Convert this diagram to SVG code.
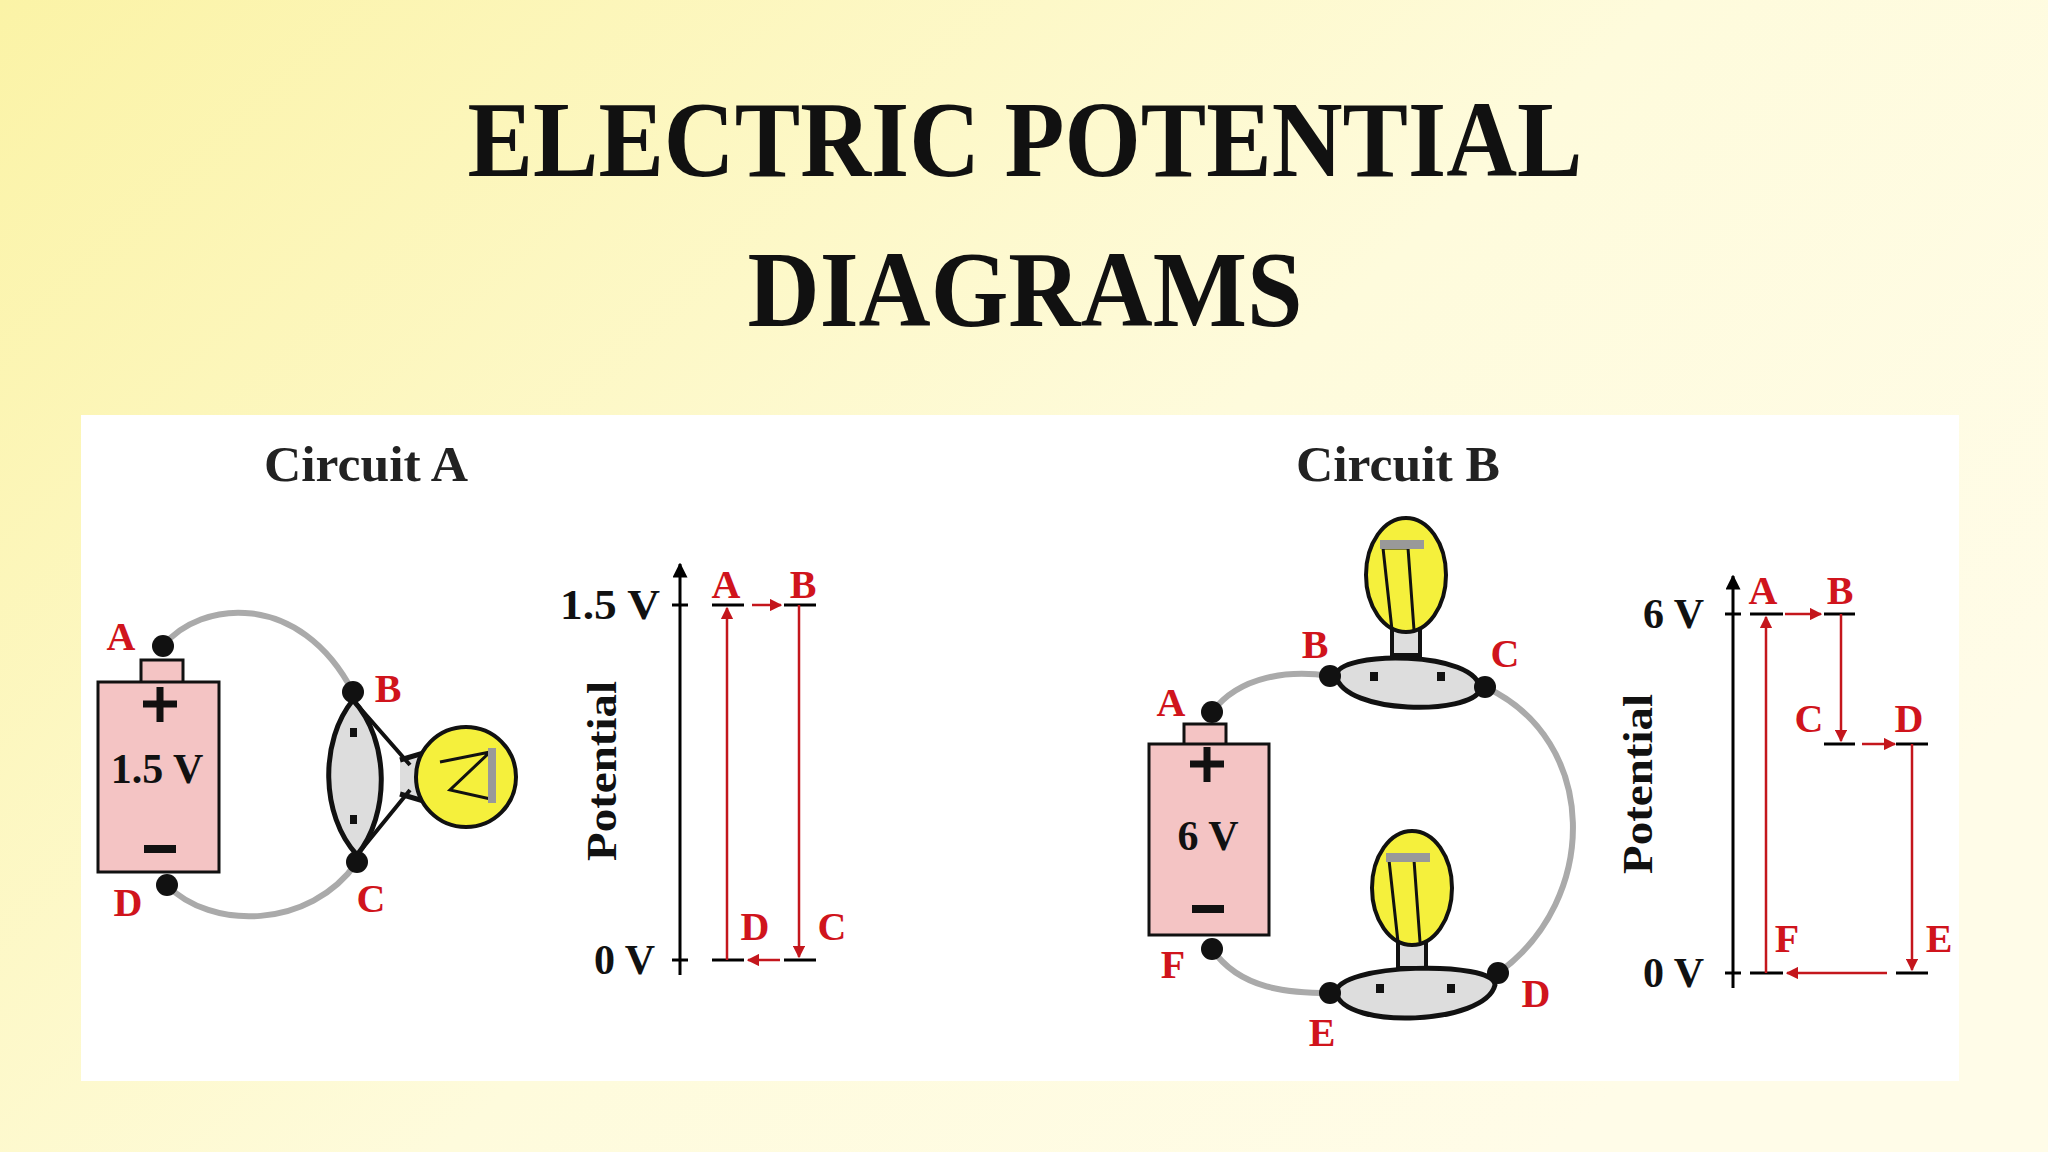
<svg xmlns="http://www.w3.org/2000/svg" width="2048" height="1152" viewBox="0 0 2048 1152">
<defs>
<linearGradient id="bg" x1="0" y1="0" x2="1" y2="0.6">
<stop offset="0" stop-color="#fbf3a6"/><stop offset="0.6" stop-color="#fefbdc"/><stop offset="1" stop-color="#fffce8"/>
</linearGradient>
<marker id="ar" viewBox="0 0 10 10" refX="9" refY="5" markerWidth="5" markerHeight="5" orient="auto"><path d="M0,0 L10,5 L0,10 z" fill="#c4161c"/></marker>
<marker id="ak" viewBox="0 0 10 10" refX="9" refY="5" markerWidth="5" markerHeight="5" orient="auto"><path d="M0,0 L10,5 L0,10 z" fill="#000"/></marker>
</defs>
<style>
.t{font-family:"Liberation Serif",serif;font-weight:bold;}
.ttl{font-size:108px;text-anchor:middle;fill:#111;}
.cap{font-size:50px;fill:#222;}
.red{font-size:40px;fill:#d0141c;text-anchor:middle;}
.blk{font-size:42px;fill:#111;}
.wire{fill:none;stroke:#aaa;stroke-width:6;}
.rl{stroke:#c4161c;stroke-width:2.5;fill:none;}
.bar{stroke:#000;stroke-width:3;}
.ax{stroke:#000;stroke-width:3;fill:none;}
.bat{fill:#f4c4c4;stroke:#111;stroke-width:3;}
.bulb{fill:#f5f03c;stroke:#111;stroke-width:4;}
.sock{fill:#ddd;stroke:#111;stroke-width:5;}
.plus{stroke:#111;stroke-width:7;fill:none;}
</style>
<rect width="2048" height="1152" fill="url(#bg)"/>
<g id="title">
<text class="t ttl" x="1025" y="176" textLength="1115" lengthAdjust="spacingAndGlyphs">ELECTRIC POTENTIAL</text>
<text class="t ttl" x="1025" y="326" textLength="555" lengthAdjust="spacingAndGlyphs">DIAGRAMS</text>
</g>
<rect x="81" y="415" width="1878" height="666" fill="#fff"/>
<g id="circuitA">
<text class="t cap" x="264" y="481" textLength="204" lengthAdjust="spacingAndGlyphs">Circuit A</text>
<g id="wiresA">
<path class="wire" d="M163,646 C200,600 300,590 353,692"/>
<path class="wire" d="M167,885 C210,930 310,930 357,862"/>
</g>
<g id="batteryA">
<rect class="bat" x="141" y="660" width="42" height="24"/>
<rect class="bat" x="98" y="682" width="121" height="190"/>
<path class="plus" d="M143,704 H177 M160,687 V722"/>
<text class="t blk" x="157" y="783" text-anchor="middle">1.5 V</text>
<rect x="144" y="845" width="32" height="8" fill="#111"/>
<circle cx="163" cy="646" r="11" fill="#111"/>
<circle cx="167" cy="885" r="11" fill="#111"/>
<text class="t red" x="121" y="650">A</text>
<text class="t red" x="128" y="916">D</text>
</g>
<g id="lampA">
<path d="M400,760 L440,748 L440,806 L400,794" fill="#ddd" stroke="#111" stroke-width="5"/>
<circle class="bulb" cx="466" cy="777" r="50"/>
<path d="M440,762 L490,752 L450,790 L495,800" fill="none" stroke="#111" stroke-width="3"/>
<rect x="488" y="748" width="8" height="55" fill="#999"/>
<path class="sock" d="M353,700 C320,740 320,815 357,855 C390,815 390,740 353,700 Z"/>
<path d="M353,700 L410,765 M357,855 L410,790" stroke="#111" stroke-width="4"/>
<rect x="350" y="728" width="7" height="9" fill="#111"/><rect x="350" y="815" width="7" height="9" fill="#111"/>
<circle cx="353" cy="692" r="11" fill="#111"/>
<circle cx="357" cy="862" r="11" fill="#111"/>
<text class="t red" x="388" y="702">B</text>
<text class="t red" x="371" y="912">C</text>
</g>
</g>
<g id="graphA">
<line class="ax" x1="680" y1="975" x2="680" y2="564" marker-end="url(#ak)"/>
<line class="bar" x1="672" y1="605" x2="688" y2="605"/><line class="bar" x1="672" y1="960" x2="688" y2="960"/>
<text class="t blk" x="660" y="619" text-anchor="end" textLength="100" lengthAdjust="spacingAndGlyphs">1.5 V</text>
<text class="t blk" x="655" y="974" text-anchor="end">0 V</text>
<text class="t blk" transform="translate(616,771) rotate(-90)" text-anchor="middle" textLength="180" lengthAdjust="spacingAndGlyphs">Potential</text>
<line class="bar" x1="712" y1="605" x2="744" y2="605"/><line class="bar" x1="784" y1="605" x2="816" y2="605"/>
<line class="bar" x1="712" y1="960" x2="744" y2="960"/><line class="bar" x1="784" y1="960" x2="816" y2="960"/>
<line class="rl" x1="727" y1="960" x2="727" y2="608" marker-end="url(#ar)"/>
<line class="rl" x1="799" y1="605" x2="799" y2="957" marker-end="url(#ar)"/>
<line class="rl" x1="752" y1="605" x2="781" y2="605" marker-end="url(#ar)"/>
<line class="rl" x1="780" y1="960" x2="748" y2="960" marker-end="url(#ar)"/>
<text class="t red" x="726" y="598">A</text><text class="t red" x="803" y="598">B</text>
<text class="t red" x="755" y="940">D</text><text class="t red" x="832" y="940">C</text>
</g>
<g id="circuitB">
<text class="t cap" x="1296" y="481" textLength="204" lengthAdjust="spacingAndGlyphs">Circuit B</text>
<g id="wiresB">
<path class="wire" d="M1212,712 C1240,675 1290,670 1330,676"/>
<path class="wire" d="M1485,687 C1600,740 1600,900 1498,973"/>
<path class="wire" d="M1212,949 C1240,990 1290,993 1330,993"/>
</g>
<g id="batteryB">
<rect class="bat" x="1184" y="724" width="42" height="22"/>
<rect class="bat" x="1149" y="744" width="120" height="191"/>
<path class="plus" d="M1190,764 H1224 M1207,747 V782"/>
<text class="t blk" x="1208" y="850" text-anchor="middle">6 V</text>
<rect x="1192" y="905" width="32" height="8" fill="#111"/>
<circle cx="1212" cy="712" r="11" fill="#111"/>
<circle cx="1212" cy="949" r="11" fill="#111"/>
<text class="t red" x="1171" y="716">A</text>
<text class="t red" x="1173" y="978">F</text>
</g>
<g id="lampB1">
<path d="M1392,628 L1392,655 L1420,655 L1420,628" fill="#ddd" stroke="#111" stroke-width="4"/>
<ellipse class="bulb" cx="1406" cy="575" rx="40" ry="57"/>
<path d="M1392,630 L1383,548 L1408,548 L1414,630" fill="none" stroke="#111" stroke-width="3"/>
<rect x="1380" y="540" width="44" height="9" fill="#999"/>
<path class="sock" d="M1336,676 C1336,650 1480,650 1480,690 C1470,715 1345,715 1336,676 Z"/>
<rect x="1370" y="672" width="8" height="9" fill="#111"/><rect x="1437" y="672" width="8" height="9" fill="#111"/>
<circle cx="1330" cy="676" r="11" fill="#111"/>
<circle cx="1485" cy="687" r="11" fill="#111"/>
<text class="t red" x="1315" y="658">B</text>
<text class="t red" x="1505" y="667">C</text>
</g>
<g id="lampB2">
<path d="M1398,940 L1398,968 L1426,968 L1426,940" fill="#ddd" stroke="#111" stroke-width="4"/>
<ellipse class="bulb" cx="1412" cy="888" rx="40" ry="57"/>
<path d="M1398,942 L1389,860 L1414,860 L1420,942" fill="none" stroke="#111" stroke-width="3"/>
<rect x="1386" y="853" width="44" height="9" fill="#999"/>
<path class="sock" d="M1336,993 C1336,963 1495,960 1495,985 C1485,1025 1345,1030 1336,993 Z"/>
<rect x="1376" y="984" width="8" height="9" fill="#111"/><rect x="1447" y="984" width="8" height="9" fill="#111"/>
<circle cx="1330" cy="993" r="11" fill="#111"/>
<circle cx="1498" cy="973" r="11" fill="#111"/>
<text class="t red" x="1322" y="1046">E</text>
<text class="t red" x="1536" y="1007">D</text>
</g>
</g>
<g id="graphB">
<line class="ax" x1="1733" y1="988" x2="1733" y2="576" marker-end="url(#ak)"/>
<line class="bar" x1="1725" y1="614" x2="1741" y2="614"/><line class="bar" x1="1725" y1="973" x2="1741" y2="973"/>
<text class="t blk" x="1704" y="628" text-anchor="end">6 V</text>
<text class="t blk" x="1704" y="987" text-anchor="end">0 V</text>
<text class="t blk" transform="translate(1652,784) rotate(-90)" text-anchor="middle" textLength="180" lengthAdjust="spacingAndGlyphs">Potential</text>
<line class="bar" x1="1750" y1="614" x2="1783" y2="614"/><line class="bar" x1="1824" y1="614" x2="1855" y2="614"/>
<line class="bar" x1="1824" y1="744" x2="1855" y2="744"/><line class="bar" x1="1896" y1="744" x2="1928" y2="744"/>
<line class="bar" x1="1750" y1="973" x2="1783" y2="973"/><line class="bar" x1="1896" y1="973" x2="1928" y2="973"/>
<line class="rl" x1="1766" y1="973" x2="1766" y2="617" marker-end="url(#ar)"/>
<line class="rl" x1="1785" y1="614" x2="1821" y2="614" marker-end="url(#ar)"/>
<line class="rl" x1="1841" y1="614" x2="1841" y2="741" marker-end="url(#ar)"/>
<line class="rl" x1="1862" y1="744" x2="1895" y2="744" marker-end="url(#ar)"/>
<line class="rl" x1="1912" y1="744" x2="1912" y2="970" marker-end="url(#ar)"/>
<line class="rl" x1="1887" y1="973" x2="1787" y2="973" marker-end="url(#ar)"/>
<text class="t red" x="1763" y="604">A</text><text class="t red" x="1840" y="604">B</text>
<text class="t red" x="1809" y="732">C</text><text class="t red" x="1909" y="732">D</text>
<text class="t red" x="1787" y="952">F</text><text class="t red" x="1939" y="952">E</text>
</g>
</svg>
